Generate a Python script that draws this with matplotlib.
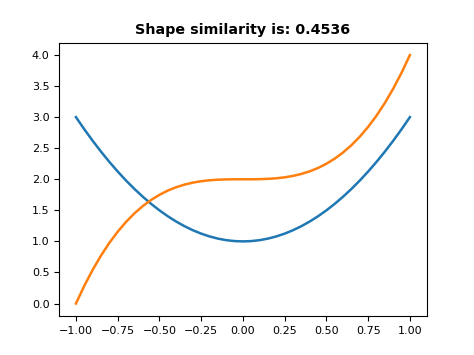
import matplotlib
matplotlib.use("Agg")
import matplotlib.pyplot as plt

# values (every 0.05 along x)
x_vals = [-1.0, -0.95, -0.9, -0.85, -0.8, -0.75, -0.7, -0.65, -0.6, -0.55, -0.5,
          -0.45, -0.4, -0.35, -0.3, -0.25, -0.2, -0.15, -0.1, -0.05, 0.0,
          0.05, 0.1, 0.15, 0.2, 0.25, 0.3, 0.35, 0.4, 0.45, 0.5,
          0.55, 0.6, 0.65, 0.7, 0.75, 0.8, 0.85, 0.9, 0.95, 1.0]
blue_vals = [3.0, 2.805, 2.62, 2.445, 2.28, 2.125, 1.98, 1.845, 1.72, 1.605, 1.5,
             1.405, 1.32, 1.245, 1.18, 1.125, 1.08, 1.045, 1.02, 1.005, 1.0,
             1.005, 1.02, 1.045, 1.08, 1.125, 1.18, 1.245, 1.32, 1.405, 1.5,
             1.605, 1.72, 1.845, 1.98, 2.125, 2.28, 2.445, 2.62, 2.805, 3.0]
orange_vals = [0.0, 0.285, 0.542, 0.772, 0.976, 1.156, 1.314, 1.451, 1.568, 1.667, 1.75,
               1.818, 1.872, 1.914, 1.946, 1.969, 1.984, 1.993, 1.998, 2.0, 2.0,
               2.0, 2.002, 2.007, 2.016, 2.031, 2.054, 2.086, 2.128, 2.182, 2.25,
               2.333, 2.432, 2.549, 2.686, 2.844, 3.024, 3.228, 3.458, 3.715, 4.0]
similarity = 0.4536

fig, ax = plt.subplots(figsize=(4.74, 3.55), dpi=100)
ax.plot(x_vals, blue_vals, color="#1f77b4", lw=1.8, solid_joinstyle="round")
ax.plot(x_vals, orange_vals, color="#ff7f0e", lw=1.8, solid_joinstyle="round")
ax.set_title("Shape similarity is: %.4f" % similarity, fontsize=10.3, fontweight="bold")
ax.tick_params(labelsize=8)
ax.set_xticks([-1.0, -0.75, -0.5, -0.25, 0.0, 0.25, 0.5, 0.75, 1.0])
fig.subplots_adjust(left=0.125, right=0.9, top=0.88, bottom=0.11)
fig.savefig("out.png")
